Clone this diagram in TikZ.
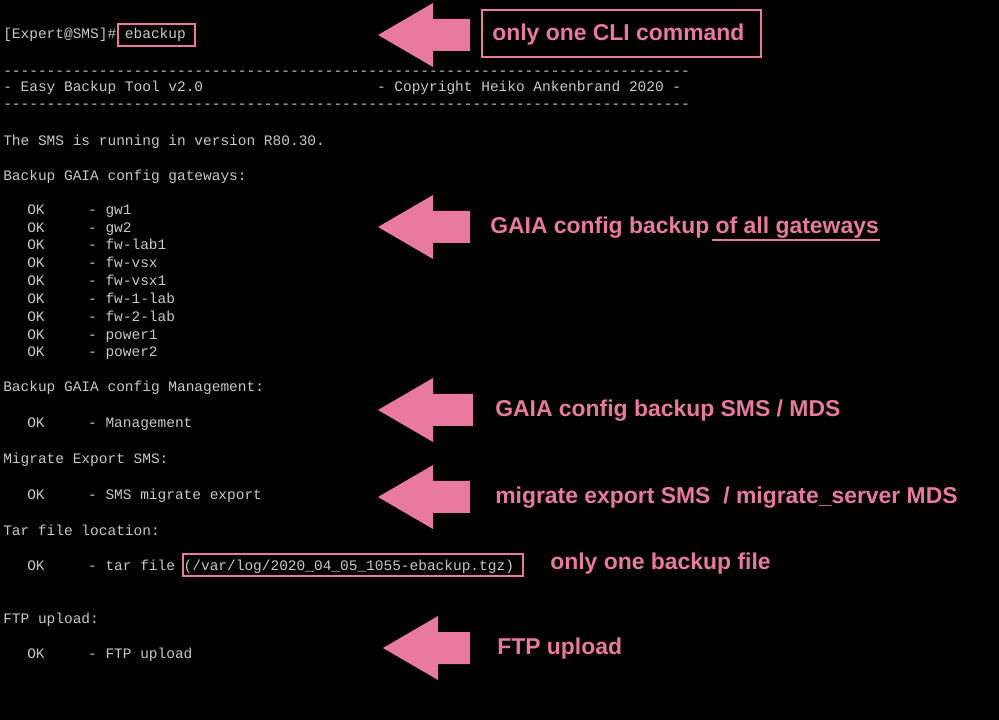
\documentclass[tikz,border=0pt]{standalone}
\usepackage{fontspec}
\setmainfont{Liberation Sans}
\setmonofont{Liberation Mono}
\definecolor{term}{RGB}{200,200,200}
\definecolor{pinkc}{RGB}{232,122,160}
\begin{document}
\begin{tikzpicture}[x=0.025cm,y=-0.025cm,
  t/.style={anchor=base west,inner sep=0,text=term,font=\ttfamily\fontsize{10.3}{12}\selectfont},
  ann/.style={anchor=west,inner sep=0,text=pinkc,font=\bfseries\fontsize{16.3}{18}\selectfont},
  pbox/.style={draw=pinkc,line width=1.6pt},
  arr/.style={fill=pinkc}]
\fill[black] (0,0) rectangle (999,720);
\useasboundingbox (0,0) rectangle (999,720);
% terminal text
\node[t] (p) at (3,39) {[Expert@SMS]\# ebackup};
\node[t] (d1) at (3,76) {-------------------------------------------------------------------------------};
\node[t] (e) at (3,92) {- Easy Backup Tool v2.0\ \ \ \ \ \ \ \ \ \ \ \ \ \ \ \ \ \ \ \ - Copyright Heiko Ankenbrand 2020 -};
\node[t] (d2) at (3,109) {-------------------------------------------------------------------------------};
\node[t] (v) at (3,146) {The SMS is running in version R80.30.};
\node[t] (b1) at (3,181) {Backup GAIA config gateways:};
\foreach \n/\y in {gw1/215,gw2/233,fw-lab1/250,fw-vsx/268,fw-vsx1/286,fw-1-lab/304,fw-2-lab/322,power1/340,power2/357}
  \node[t] at (27,\y) {OK\ \ \ \ \ - \n};
\node[t] (b2) at (3,392) {Backup GAIA config Management:};
\node[t] (m) at (27,428) {OK\ \ \ \ \ - Management};
\node[t] (mi) at (3,464) {Migrate Export SMS:};
\node[t] (me) at (27,499) {OK\ \ \ \ \ - SMS migrate export};
\node[t] (tl) at (3,535) {Tar file location:};
\node[t] (tf) at (27,570) {OK\ \ \ \ \ - tar file (/var/log/2020\_04\_05\_1055-ebackup.tgz)};
\node[t] (fu) at (3,623) {FTP upload:};
\node[t] (fo) at (27,658) {OK\ \ \ \ \ - FTP upload};
% boxes
\draw[pbox] (118,24) rectangle (195,46);
\draw[pbox] (183,554) rectangle (523,576);
\draw[pbox] (482,10) rectangle (761,57);
% arrows
\foreach \tx/\ty/\rx in {378/35/470, 378/227/470, 378/410/473, 378/497/470, 383/648/470}
  \fill[arr] (\tx,\ty) -- (\tx+55,\ty-32) -- (\tx+55,\ty-16) -- (\rx,\ty-16) -- (\rx,\ty+16) -- (\tx+55,\ty+16) -- (\tx+55,\ty+32) -- cycle;
% annotations
\node[ann] (a1) at (492,35) {only one CLI command};
\node[ann] (a2) at (490,228) {GAIA config backup of all gateways};
\draw[pinkc,line width=1.6pt] (712,240) -- (880,240);
\node[ann] (a3) at (495,411) {GAIA config backup SMS / MDS};
\node[ann] (a4) at (495,498) {migrate export SMS\ \ / migrate\_server MDS};
\node[ann] (a5) at (550,564) {only one backup file};
\node[ann] (a6) at (497,649) {FTP upload};
\end{tikzpicture}
\end{document}
